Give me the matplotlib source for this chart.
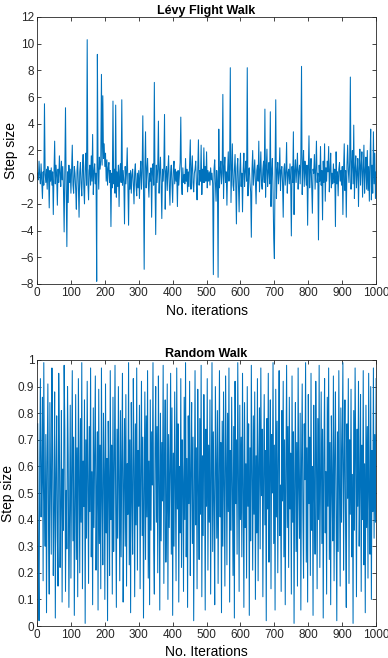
import numpy as np
import matplotlib
matplotlib.use("Agg")
import matplotlib.pyplot as plt
from matplotlib.ticker import FuncFormatter

plt.rcParams['font.family'] = ['Liberation Sans', 'DejaVu Sans']

# Lévy flight step sizes (one value every 2 iterations)
levy_steps = [
    0.3, -0.2, 1.2, 0.1, -0.5, 1.0, -0.3, -1.6, 0.4, -0.6, 5.5, 0.2, -0.4, 0.6, -0.9, 0.8, 0.2, -2.3, 0.5, -0.3, 0.7, -0.6, 0.4, -2.8, 0.3,
    2.7, -0.5, 0.9, 0.1, -2.1, 0.6, -0.4, 1.6, 0.3, -0.7, 1.2, -0.2, 0.8, -0.9, -4.1, 0.7, 5.2, -0.8, -5.2, 0.4, -1.9, 0.9, -0.4, 0.6, -1.2,
    0.5, 2.4, -0.6, -1.2, 0.8, 0.3, -0.9, -2.4, 0.5, 1.2, -0.7, -3.0, 0.4, 1.1, -0.5, -1.4, 0.6, 1.7, -0.8, -2.0, 0.7, 1.8, -0.6, 10.3, -0.4,
    -1.7, 0.5, 0.9, -0.6, 1.6, -0.3, 3.2, -1.3, 0.4, 1.0, -0.5, 0.3, -7.8, 9.2, 0.8, -0.9, 1.5, 0.6, 1.2, 7.7, 0.9, 6.1, 1.4, 2.5, 0.8,
    1.8, -0.3, 1.3, -0.6, 0.7, 1.1, -0.4, 0.5, -3.7, 0.3, -0.8, 5.7, -0.5, 0.6, -1.2, 5.4, -1.5, 0.4, -0.7, 0.9, -2.2, 0.5, 1.0, -0.4, 5.8,
    -0.6, 0.5, -0.3, -3.5, 0.8, -0.5, 0.4, 2.2, -0.6, -3.6, 0.3, -0.9, 0.5, -1.2, 0.2, 0.6, -0.5, -2.0, 0.4, 1.0, -0.6, -1.4, 0.3, -0.8, 0.5,
    -1.6, 0.2, 1.2, -0.9, 0.4, 4.6, -0.7, -6.9, 0.6, 3.4, -0.8, 0.5, 1.4, -0.4, -1.5, 0.3, -0.3, 0.7, -3.0, 0.4, 1.0, -0.6, 7.1, -0.5, -4.3,
    0.9, -0.4, 0.6, 4.2, -1.2, 0.3, 1.5, -0.5, -3.1, 0.6, -0.3, 0.8, 4.7, -2.4, 0.4, 0.8, -1.0, 0.5, 1.6, -0.6, -2.1, 0.4, 0.9, -0.5, -1.9,
    0.6, 1.2, -0.5, 0.6, -0.3, 0.4, -2.2, 0.5, -0.6, 0.3, 1.1, 4.5, -0.5, -1.3, 0.7, -0.4, 0.2, -0.5, 1.4, -0.3, 0.6, -1.1, 0.4, -0.7, 1.0,
    2.8, -0.9, 0.5, 1.6, -0.4, -1.1, 0.3, 0.6, 1.2, -0.5, -1.7, 0.4, 2.8, -0.6, 0.5, -0.3, 2.4, -1.3, 0.6, -0.4, 2.2, -0.4, 0.8, -0.3, 1.9,
    -0.8, 0.5, -0.3, 0.4, -0.6, 0.7, -0.2, 0.3, -0.5, -7.3, 0.6, 1.3, -0.4, -1.8, 0.5, -0.3, -7.5, 3.6, -0.8, 0.4, 1.2, -0.5, 0.3, 6.2, -1.6,
    0.6, 1.5, -0.4, 0.4, -2.1, 0.5, 1.9, -0.3, 0.6, 8.2, -1.9, 0.4, 2.5, -0.6, -1.0, 0.5, 1.7, -0.4, -3.5, 0.7, 1.4, -0.5, -2.6, 0.4, 1.8,
    -0.7, 0.3, -2.6, 0.6, 1.8, -0.7, 0.4, 1.2, -0.3, 8.2, -1.4, 0.5, 0.7, -0.4, -1.1, -4.5, 0.6, 2.0, -0.6, 0.3, 1.3, -0.4, -2.0, 0.5, 0.9,
    -0.3, 2.7, -1.1, 0.4, 1.9, -0.5, -0.9, 0.6, 1.2, -0.4, 5.1, -1.5, 0.6, 2.1, -0.7, 0.4, 1.1, -0.5, 4.9, -2.2, 0.5, 1.4, -1.0, -4.6, -6.1,
    0.7, 5.8, -1.6, 0.4, 1.1, -0.5, 0.3, 2.2, -1.0, 0.5, 0.8, -0.4, -3.0, 0.6, 1.0, -0.6, 0.4, 2.6, -1.2, 0.3, 0.6, -0.5, 1.0, -0.3, -4.4,
    0.8, -0.4, 3.4, -2.8, 0.5, 1.3, -0.4, 0.6, 1.8, -0.9, 0.4, 0.9, -0.5, 1.5, 8.3, -1.3, 0.7, 2.0, -0.7, 1.2, 0.4, -0.6, 0.9, -3.6, 0.5,
    3.1, -0.8, 0.4, 1.4, -0.5, -2.7, 0.6, 0.3, 1.7, -0.9, 0.5, 2.7, -0.4, 0.3, -4.7, 0.9, -0.3, 2.3, -0.6, 0.5, -3.2, 1.2, -0.4, 2.5, -1.8,
    0.7, -0.3, 1.2, 0.4, 2.3, -1.1, 0.5, 1.8, -0.8, 0.3, -0.5, 1.0, -0.4, 0.6, -3.7, 1.9, -0.5, 0.4, -1.4, 0.6, 1.1, -0.3, 0.5, -0.6, 0.8,
    -2.8, 0.6, 2.5, -1.0, 0.5, -3.0, 0.9, 2.4, 0.5, -0.4, 1.2, 7.5, -0.9, 0.8, 2.0, -0.5, 3.9, -1.6, 0.6, 1.6, -0.8, 0.4, 1.4, -2.2, 0.7,
    2.1, -0.6, 0.9, 1.9, -1.5, 0.6, 2.4, -1.2, 0.5, 1.5, -0.9, 2.0, -1.0, 0.8, -1.8, 1.3, 3.6, -1.7, 0.9, -1.2, 3.4, -0.5, 1.8, -1.6, 0.4,
]

# uniform random-walk step sizes (one value every 2 iterations)
random_steps = [
    0.76, 0.24, 0.02, 0.63, 0.93, 0.41, 0.55, 0.86, 0.17, 0.99, 0.48, 0.30, 0.72, 0.05, 0.61, 0.91, 0.38, 0.12, 0.84, 0.53, 0.27, 0.97, 0.66, 0.19, 0.44,
    0.88, 0.03, 0.57, 0.79, 0.34, 0.15, 0.95, 0.69, 0.22, 0.46, 0.81, 0.09, 0.59, 0.36, 0.98, 0.74, 0.13, 0.51, 0.29, 0.90, 0.64, 0.07, 0.42, 0.83, 0.18,
    0.60, 0.96, 0.32, 0.71, 0.04, 0.49, 0.87, 0.25, 0.67, 0.11, 0.93, 0.56, 0.20, 0.78, 0.39, 0.99, 0.14, 0.62, 0.45, 0.85, 0.01, 0.70, 0.33, 0.92, 0.52,
    0.16, 0.75, 0.43, 0.97, 0.26, 0.58, 0.08, 0.82, 0.37, 0.65, 0.94, 0.21, 0.50, 0.73, 0.06, 0.89, 0.31, 0.68, 0.14, 0.97, 0.47, 0.23, 0.80, 0.58, 0.10,
    0.91, 0.35, 0.63, 0.02, 0.77, 0.54, 0.19, 0.96, 0.40, 0.68, 0.12, 0.86, 0.28, 0.59, 0.98, 0.44, 0.07, 0.74, 0.33, 0.90, 0.55, 0.17, 0.81, 0.26, 0.64,
    0.95, 0.09, 0.52, 0.78, 0.30, 0.87, 0.15, 0.61, 0.42, 0.99, 0.23, 0.70, 0.05, 0.84, 0.48, 0.27, 0.93, 0.60, 0.11, 0.76, 0.38, 0.97, 0.21, 0.66, 0.45,
    0.83, 0.14, 0.57, 0.92, 0.34, 0.71, 0.03, 0.50, 0.88, 0.25, 0.79, 0.41, 0.96, 0.18, 0.62, 0.08, 0.85, 0.36, 0.73, 0.53, 0.99, 0.29, 0.12, 0.67, 0.90,
    0.39, 0.75, 0.20, 0.94, 0.56, 0.06, 0.80, 0.32, 0.69, 0.47, 0.98, 0.16, 0.61, 0.85, 0.24, 0.43, 0.91, 0.10, 0.72, 0.37, 0.58, 0.95, 0.27, 0.82, 0.04,
    0.65, 0.30, 0.88, 0.51, 0.17, 0.97, 0.44, 0.76, 0.09, 0.60, 0.35, 0.93, 0.22, 0.70, 0.54, 0.13, 0.86, 0.40, 0.99, 0.26, 0.63, 0.07, 0.79, 0.46, 0.92,
    0.19, 0.57, 0.84, 0.31, 0.71, 0.02, 0.48, 0.96, 0.38, 0.67, 0.14, 0.89, 0.52, 0.25, 0.78, 0.42, 0.98, 0.11, 0.64, 0.34, 0.87, 0.59, 0.06, 0.74, 0.45,
    0.93, 0.21, 0.68, 0.39, 0.85, 0.12, 0.55, 0.99, 0.28, 0.73, 0.47, 0.08, 0.90, 0.62, 0.33, 0.81, 0.16, 0.57, 0.96, 0.41, 0.69, 0.05, 0.77, 0.30, 0.88,
    0.50, 0.15, 0.94, 0.63, 0.23, 0.80, 0.43, 0.97, 0.09, 0.66, 0.36, 0.86, 0.54, 0.19, 0.75, 0.03, 0.92, 0.46, 0.70, 0.27, 0.99, 0.58, 0.13, 0.83, 0.40,
    0.71, 0.26, 0.95, 0.52, 0.07, 0.84, 0.37, 0.61, 0.18, 0.90, 0.45, 0.76, 0.04, 0.67, 0.32, 0.98, 0.56, 0.21, 0.79, 0.42, 0.88, 0.10, 0.64, 0.35, 0.93,
    0.17, 0.60, 0.82, 0.29, 0.97, 0.49, 0.74, 0.11, 0.55, 0.87, 0.38, 0.66, 0.02, 0.78, 0.44, 0.95, 0.24, 0.59, 0.85, 0.14, 0.72, 0.50, 0.99, 0.31, 0.68,
    0.06, 0.89, 0.41, 0.77, 0.20, 0.63, 0.96, 0.34, 0.53, 0.13, 0.81, 0.47, 0.92, 0.26, 0.70, 0.08, 0.58, 0.98, 0.37, 0.75, 0.22, 0.86, 0.44, 0.65, 0.12,
    0.94, 0.39, 0.73, 0.01, 0.57, 0.84, 0.28, 0.69, 0.15, 0.97, 0.52, 0.33, 0.80, 0.06, 0.62, 0.91, 0.43, 0.18, 0.76, 0.55, 0.99, 0.24, 0.67, 0.09, 0.87,
    0.46, 0.71, 0.19, 0.95, 0.36, 0.60, 0.04, 0.83, 0.50, 0.27, 0.92, 0.65, 0.14, 0.78, 0.40, 0.98, 0.22, 0.56, 0.88, 0.31, 0.74, 0.03, 0.63, 0.93, 0.35,
    0.58, 0.12, 0.86, 0.45, 0.97, 0.25, 0.69, 0.08, 0.79, 0.53, 0.32, 0.94, 0.17, 0.64, 0.88, 0.41, 0.02, 0.73, 0.28, 0.96, 0.51, 0.15, 0.82, 0.39, 0.67,
    0.99, 0.21, 0.60, 0.85, 0.34, 0.07, 0.76, 0.48, 0.93, 0.16, 0.70, 0.42, 0.89, 0.26, 0.57, 0.01, 0.81, 0.36, 0.97, 0.63, 0.11, 0.74, 0.45, 0.92, 0.30,
    0.54, 0.87, 0.13, 0.68, 0.40, 0.96, 0.23, 0.61, 0.05, 0.83, 0.37, 0.75, 0.18, 0.95, 0.49, 0.27, 0.90, 0.10, 0.66, 0.43, 0.97, 0.33, 0.72, 0.39, 0.93,
]

n_iter = 1000
x_levy = np.linspace(n_iter / len(levy_steps), n_iter, len(levy_steps))
x_rand = np.linspace(n_iter / len(random_steps), n_iter, len(random_steps))

matlab_blue = '#0072BD'

fig = plt.figure(figsize=(3.88, 6.58), dpi=100)
ax1 = fig.add_axes([0.0954, 0.5684, 0.874, 0.4058])
ax2 = fig.add_axes([0.0954, 0.0486, 0.874, 0.4043])


def style_axes(ax):
    ax.tick_params(direction='in', top=True, right=True, length=3, width=0.6,
                   labelsize=8.5, pad=2, colors='#262626')
    for s in ax.spines.values():
        s.set_linewidth(0.6)
        s.set_color('#262626')
    ax.set_xlim(0, n_iter)
    ax.set_xticks(np.arange(0, 1001, 100))


ax1.plot(x_levy, levy_steps, color=matlab_blue, lw=0.75)
style_axes(ax1)
ax1.set_ylim(-8, 12)
ax1.set_yticks(np.arange(-8, 13, 2))
ax1.set_title('Lévy Flight Walk', fontsize=9, fontweight='bold', pad=2)
ax1.set_xlabel('No. iterations', fontsize=10, labelpad=4)
ax1.set_ylabel('Step size', fontsize=10, labelpad=2)

ax2.plot(x_rand, random_steps, color=matlab_blue, lw=0.75)
style_axes(ax2)
ax2.set_ylim(0, 1)
ax2.set_yticks(np.arange(0, 1.01, 0.1))
ax2.yaxis.set_major_formatter(FuncFormatter(lambda v, p: f'{v:g}'))
ax2.set_title('Random Walk', fontsize=9, fontweight='bold', pad=2)
ax2.set_xlabel('No. Iterations', fontsize=10, labelpad=3)
ax2.set_ylabel('Step size', fontsize=10, labelpad=2)

fig.savefig('out.png', dpi=100)
